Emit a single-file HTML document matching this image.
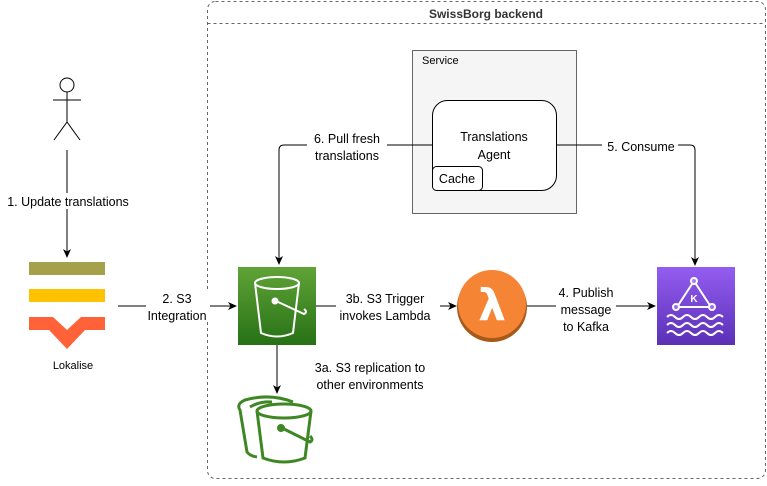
<!DOCTYPE html>
<html><head><style>
body{margin:0;background:#fff;width:767px;height:481px;overflow:hidden;font-family:"Liberation Sans",Helvetica,sans-serif}
</style></head><body>
<svg width="767" height="481" viewBox="0 0 767 481" xmlns="http://www.w3.org/2000/svg" font-family="Liberation Sans, Helvetica, sans-serif">
<defs>
<marker id="a" markerWidth="10" markerHeight="10" refX="8" refY="5" orient="auto" markerUnits="userSpaceOnUse"><path d="M0,1 L9,5 L0,9 L2.5,5 z" fill="#000"/></marker>
<linearGradient id="g" x1="0" y1="0" x2="0" y2="1"><stop offset="0" stop-color="#60a337"/><stop offset="1" stop-color="#277116"/></linearGradient>
<linearGradient id="p" x1="0" y1="0" x2="0" y2="1"><stop offset="0" stop-color="#945df2"/><stop offset="1" stop-color="#5a30b5"/></linearGradient>
</defs>
<!-- outer container -->
<rect x="207.5" y="1.5" width="558" height="477" rx="8" fill="none" stroke="#666" stroke-dasharray="3,3"/>
<line x1="207.5" y1="23.5" x2="765.5" y2="23.5" stroke="#666" stroke-dasharray="3,3"/>
<text x="486" y="18" font-size="12" font-weight="bold" text-anchor="middle" fill="#333">SwissBorg backend</text>
<!-- service -->
<rect x="412.5" y="50.5" width="164" height="163" fill="#f5f5f5" stroke="#666"/>
<text x="422" y="64" font-size="11" fill="#000">Service</text>
<rect x="432.5" y="100.5" width="124" height="90" rx="15" fill="#fff" stroke="#000"/>
<text x="494" y="141" font-size="12.5" text-anchor="middle">Translations</text>
<text x="494" y="159" font-size="12.5" text-anchor="middle">Agent</text>
<rect x="432.5" y="166.5" width="50" height="24" rx="4" fill="#fff" stroke="#000"/>
<text x="457" y="183" font-size="12.5" text-anchor="middle">Cache</text>
<!-- person -->
<g stroke="#000" fill="none" stroke-width="1">
<circle cx="67" cy="85" r="7" fill="#fff"/>
<line x1="67" y1="92" x2="67" y2="122"/><line x1="53" y1="100" x2="81" y2="100"/>
<line x1="67" y1="122" x2="54" y2="140"/><line x1="67" y1="122" x2="80" y2="140"/>
</g>
<line x1="67" y1="150" x2="67" y2="257" stroke="#000" marker-end="url(#a)"/>
<rect x="0" y="193" width="138" height="16" fill="#fff"/>
<text x="68" y="206" font-size="12.5" text-anchor="middle">1. Update translations</text>
<!-- lokalise -->
<rect x="29" y="262" width="76" height="13" fill="#a5a04a"/>
<rect x="29" y="289" width="76" height="13" fill="#ffc200"/>
<path d="M29,317 H53 L67,330 L81,317 H105 V330 H85 L67,349 L49,330 H29 z" fill="#ff6138"/>
<text x="73" y="369" font-size="11" text-anchor="middle">Lokalise</text>
<!-- edge 2 -->
<line x1="118" y1="306" x2="236" y2="306" stroke="#000" marker-end="url(#a)"/>
<rect x="146" y="290" width="64" height="32" fill="#fff"/>
<text x="177" y="303" font-size="12.5" text-anchor="middle">2. S3</text>
<text x="177" y="320" font-size="12.5" text-anchor="middle">Integration</text>
<!-- S3 -->
<rect x="238" y="267" width="78" height="78" fill="url(#g)"/>
<g stroke="#fff" stroke-width="2" fill="none">
<ellipse cx="277" cy="283" rx="22" ry="6"/>
<path d="M255,283 L261,333 Q277,340 293,333 L299,283"/>
<circle cx="275" cy="301" r="2.5" fill="#fff"/>
<path d="M276,301 L304,314 Q308,312 304,309"/>
</g>
<!-- edge 6 -->
<path d="M432,145 H284 Q279,145 279,150 V264" fill="none" stroke="#000" marker-end="url(#a)"/>
<rect x="307" y="130" width="80" height="32" fill="#fff"/>
<text x="347" y="143" font-size="12.5" text-anchor="middle">6. Pull fresh</text>
<text x="347" y="160" font-size="12.5" text-anchor="middle">translations</text>
<!-- edge 5 -->
<path d="M556,145 H690 Q695,145 695,150 V265" fill="none" stroke="#000" marker-end="url(#a)"/>
<rect x="602" y="138" width="76" height="16" fill="#fff"/>
<text x="641" y="151" font-size="12.5" text-anchor="middle">5. Consume</text>
<!-- edge 3b -->
<line x1="316" y1="306" x2="456" y2="306" stroke="#000" marker-end="url(#a)"/>
<rect x="336" y="290" width="104" height="32" fill="#fff"/>
<text x="385" y="303" font-size="12.5" text-anchor="middle">3b. S3 Trigger</text>
<text x="385" y="320" font-size="12.5" text-anchor="middle">invokes Lambda</text>
<!-- lambda -->
<circle cx="492" cy="307" r="35" fill="#a65a1a"/>
<circle cx="492" cy="304" r="34" fill="#f58534"/>
<text x="492" y="320" font-size="44" font-weight="bold" fill="#fff" text-anchor="middle" font-family="DejaVu Sans, sans-serif">λ</text>
<!-- edge 4 -->
<line x1="527" y1="306" x2="655" y2="306" stroke="#000" marker-end="url(#a)"/>
<rect x="556" y="286" width="60" height="48" fill="#fff"/>
<text x="586" y="297" font-size="12.5" text-anchor="middle">4. Publish</text>
<text x="586" y="314" font-size="12.5" text-anchor="middle">message</text>
<text x="586" y="331" font-size="12.5" text-anchor="middle">to Kafka</text>
<!-- kafka -->
<rect x="657" y="267" width="78" height="78" fill="url(#p)"/>
<g stroke="#fff" stroke-width="2" fill="none">
<path d="M694,281 L677,307 L711,307 z"/>
<circle cx="694" cy="281" r="3" fill="#a880f5"/><circle cx="676" cy="307" r="3" fill="#9a70f0"/><circle cx="712" cy="307" r="3" fill="#9a70f0"/>
<path d="M667,317 q4,-4 8,0 t8,0 t8,0 t8,0 t8,0 t8,0 t8,0"/>
<path d="M667,325 q4,-4 8,0 t8,0 t8,0 t8,0 t8,0 t8,0 t8,0"/>
<path d="M667,333 q4,-4 8,0 t8,0 t8,0 t8,0 t8,0 t8,0 t8,0"/>
</g>
<text x="694" y="302" font-size="10" font-weight="bold" fill="#fff" text-anchor="middle">K</text>
<!-- edge 3a -->
<line x1="277" y1="345" x2="277" y2="393" stroke="#000" marker-end="url(#a)"/>
<text x="370" y="372" font-size="12.5" text-anchor="middle">3a. S3 replication to</text>
<text x="370" y="389" font-size="12.5" text-anchor="middle">other environments</text>
<!-- buckets -->
<g stroke="#3f8624" stroke-width="3" fill="none">
<path d="M293,402 Q270,393 245,400 Q236,404 240,410 L247,452 Q250,456 257,457"/>
<path d="M250,407 Q260,401 272,402"/>
<ellipse cx="284" cy="411" rx="27" ry="7" fill="#fff"/>
<path d="M257,411 L263,458 Q284,466 305,458 L311,411"/>
<circle cx="281" cy="428" r="2.5" fill="#3f8624"/>
<path d="M282,428 L310,442 Q314,440 310,436"/>
</g>
</svg>
</body></html>
